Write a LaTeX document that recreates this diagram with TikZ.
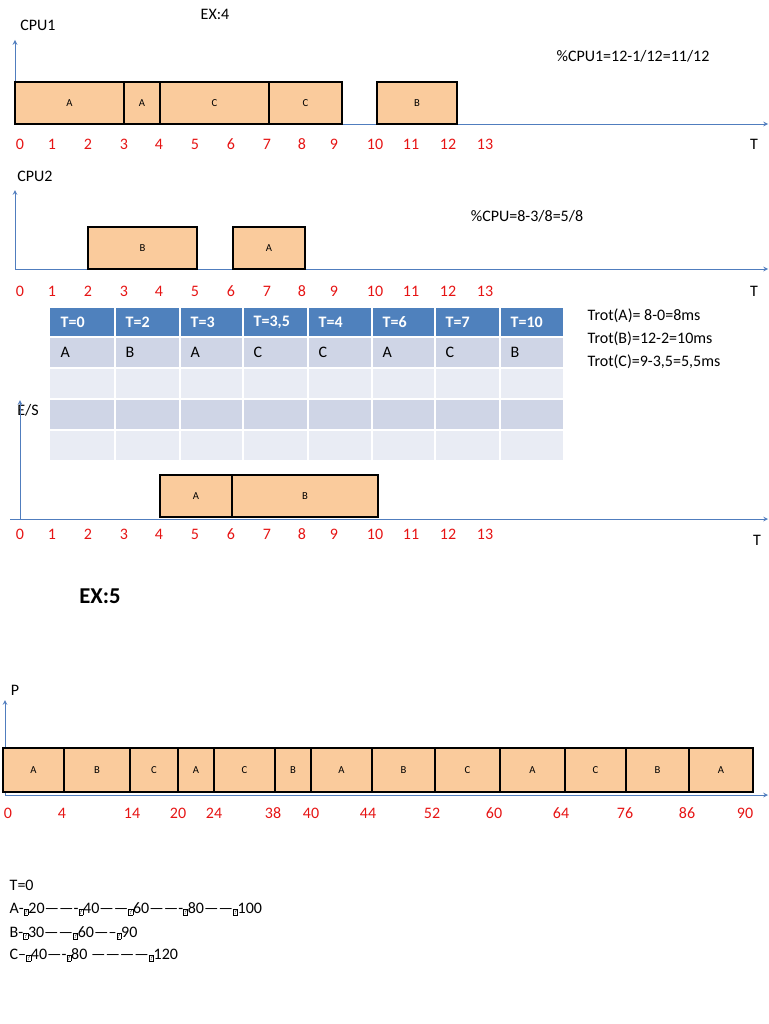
\documentclass[tikz,border=0pt]{standalone}
\usepackage{fontspec}
\setmainfont{Carlito}
\definecolor{boxf}{RGB}{250,203,156}
\definecolor{axc}{RGB}{80,125,190}
\definecolor{hdr}{RGB}{79,129,189}
\definecolor{rowa}{RGB}{207,213,230}
\definecolor{rowb}{RGB}{233,236,244}
\definecolor{redt}{RGB}{230,20,20}
\newcommand{\qb}{\raisebox{-0.5pt}{\setlength{\fboxsep}{0.3pt}\setlength{\fboxrule}{0.3pt}\fbox{\tiny ?}}}
\begin{document}
\begin{tikzpicture}[x=0.75pt,y=-0.75pt,
  ax/.style={axc,line width=0.6pt,-stealth},
  job/.style={draw=black,line width=1.3pt,fill=boxf,font=\fontsize{8}{9}\selectfont},
  num/.style={redt,font=\fontsize{12}{14}\selectfont},
  lab/.style={font=\fontsize{12}{14}\selectfont}]
\useasboundingbox (0,0) rectangle (768,1024);
% CPU1
\draw[ax] (15,124) -- (15,40);
\draw[ax] (15,124) -- (768,124);
\node[lab] (cpu1) at (38,25) {CPU1};
\node[lab] (ex4) at (215,14) {EX:4};
\node[lab] (pc1) at (633,56) {\%CPU1=12-1/12=11/12};
\foreach \a/\b/\t in {15/124/A,124/160/A,160/269/C,269/342/C,377/457/B}
  \draw[job] (\a,82) rectangle node{\t} (\b,124);
\foreach \x/\t in {20/0,52/1,88/2,124/3,159/4,195/5,231/6,267/7,302/8,334/9,375/10,411/11,448/12,485/13}
  \node[num] at (\x,144) {\t};
\node[lab] at (754,144) {T};
% CPU2
\draw[ax] (15,269) -- (15,190);
\draw[ax] (15,269) -- (768,269);
\node[lab] (cpu2) at (35,176) {CPU2};
\node[lab] (pc2) at (527,216) {\%CPU=8-3/8=5/8};
\foreach \a/\b/\t in {88/197/B,233/305/A}
  \draw[job] (\a,227) rectangle node{\t} (\b,269);
\foreach \x/\t in {20/0,52/1,88/2,124/3,159/4,195/5,231/6,267/7,302/8,334/9,375/10,411/11,448/12,485/13}
  \node[num] at (\x,291) {\t};
\node[lab] at (754,291) {T};
% table
\fill[hdr] (50,308) rectangle (563,337);
\fill[rowa] (50,337) rectangle (563,368);
\fill[rowb] (50,368) rectangle (563,399);
\fill[rowa] (50,399) rectangle (563,430);
\fill[rowb] (50,430) rectangle (563,460);
\foreach \x in {115,180,243,308,372,435,500} \draw[white,line width=1pt] (\x,308) -- (\x,460);
\foreach \y in {337,368,399,430} \draw[white,line width=1pt] (50,\y) -- (563,\y);
\foreach \x/\h/\r in {50/T=0/A,115/T=2/B,180/T=3/A,243/T={3,5}/C,308/T=4/C,372/T=6/A,435/T=7/C,500/T=10/B}{
  \node[anchor=west,white,font=\bfseries\fontsize{12}{14}\selectfont] at (\x+6,322) {\h};
  \node[anchor=west,lab] at (\x+6,352) {\r};}
\node[lab,anchor=west] (t1) at (583,316) {Trot(A)= 8-0=8ms};
\node[lab,anchor=west] (t2) at (583,339) {Trot(B)=12-2=10ms};
\node[lab,anchor=west] (t3) at (583,362) {Trot(C)=9-3,5=5,5ms};
% E/S
\node[lab] (es) at (28,410) {E/S};
\draw[ax] (20,519) -- (20,400);
\draw[ax] (10,519) -- (768,519);
\foreach \a/\b/\t in {160/232/A,232/378/B}
  \draw[job] (\a,475) rectangle node{\t} (\b,517);
\foreach \x/\t in {20/0,52/1,88/2,124/3,159/4,195/5,231/6,267/7,302/8,334/9,375/10,411/11,448/12,485/13}
  \node[num] at (\x,534) {\t};
\node[lab] at (757,540) {T};
% EX5
\node[font=\bfseries\fontsize{17}{20}\selectfont] (ex5) at (100,596) {EX:5};
\node[lab] (p) at (15,690) {P};
\draw[ax] (5,795) -- (5,700);
\draw[ax] (5,795) -- (768,795);
\foreach \a/\b/\t in {3/64/A,64/130/B,130/178/C,178/214/A,214/275/C,275/311/B,311/372/A,372/435/B,435/500/C,500/565/A,565/626/C,626/689/B,689/753/A}
  \draw[job] (\a,748) rectangle node{\t} (\b,792);
\foreach \x/\t in {8/0,62/4,132/14,178/20,214/24,273/38,311/40,368/44,432/52,494/60,561/64,625/76,687/86,745/90}
  \node[num] at (\x,813) {\t};
% text
\node[lab,anchor=west] (l0) at (5,885) {T=0};
\node[lab,anchor=west] (l1) at (5,909) {A-\qb20-------\qb40------\qb60-------\qb80------\qb100};
\node[lab,anchor=west] (l2) at (5,933) {B-\qb30------\qb60-----\qb90};
\node[lab,anchor=west] (l3) at (5,955) {C--\qb40----\qb80 ------------\qb120};
\end{tikzpicture}
\end{document}
